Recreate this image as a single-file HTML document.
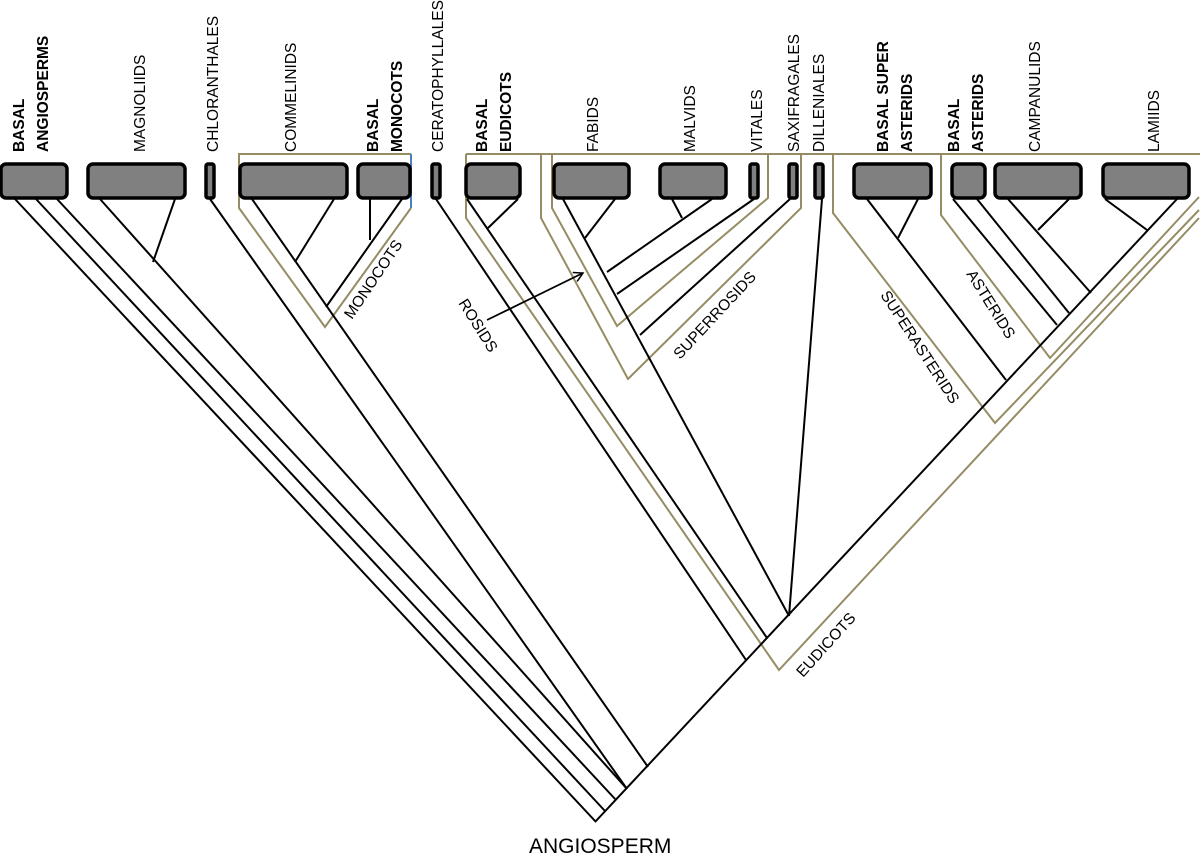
<!DOCTYPE html>
<html><head><meta charset="utf-8"><style>
html,body{margin:0;padding:0;background:#fff;}
svg{display:block;}
text{font-family:"Liberation Sans","DejaVu Sans",sans-serif;font-size:15.5px;fill:#000;}
.b{font-weight:bold;}
</style></head><body>
<svg width="1200" height="861" viewBox="0 0 1200 861" xmlns="http://www.w3.org/2000/svg">
<defs>
<marker id="ah" markerWidth="12" markerHeight="12" refX="10" refY="6" orient="auto" markerUnits="userSpaceOnUse">
<path d="M1,1 L10,6 L1,11" fill="none" stroke="#000" stroke-width="1.5"/>
</marker>
</defs>
<g fill="none" stroke="#968c64" stroke-width="2">
<polyline points="411,154 239,154 239,208 325,327 411,208"/>
<line x1="411" y1="154" x2="411" y2="208" stroke="#4a7fc0"/>
<polyline points="466,154 1200,154"/>
<polyline points="466,154 466,218 779,670 1199,218"/>
<polyline points="541,154 541,218 628,379 801,208 801,154"/>
<polyline points="552,154 552,208 617,326 768,198 768,154"/>
<polyline points="833,154 833,213 995,423 1199,210"/>
<polyline points="941,154 941,215 1050,358 1199,197"/>
</g>
<g stroke="#000" stroke-width="2" fill="none">
<line x1="595" y1="822" x2="1177" y2="199"/>
<line x1="15" y1="199" x2="596" y2="822"/>
<line x1="36" y1="199" x2="605" y2="811"/>
<line x1="57" y1="199" x2="616" y2="800"/>
<line x1="100" y1="199" x2="627" y2="789"/>
<line x1="175" y1="199" x2="153" y2="262"/>
<line x1="210" y1="199" x2="627" y2="789"/>
<line x1="252" y1="199" x2="648" y2="767"/>
<line x1="334" y1="199" x2="295" y2="262"/>
<line x1="370" y1="199" x2="370" y2="240"/>
<line x1="402" y1="199" x2="326" y2="307"/>
<line x1="436" y1="199" x2="746" y2="660"/>
<line x1="467" y1="199" x2="767" y2="638"/>
<line x1="518" y1="199" x2="488" y2="228"/>
<line x1="563" y1="199" x2="789" y2="616"/>
<line x1="615" y1="199" x2="585" y2="238"/>
<line x1="672" y1="199" x2="682" y2="218"/>
<line x1="712" y1="199" x2="607" y2="272"/>
<line x1="754" y1="199" x2="617" y2="294"/>
<line x1="790" y1="199" x2="640" y2="335"/>
<line x1="822" y1="199" x2="789" y2="616"/>
<line x1="867" y1="199" x2="1006" y2="380"/>
<line x1="918" y1="199" x2="898" y2="238"/>
<line x1="953" y1="199" x2="1057" y2="325"/>
<line x1="977" y1="199" x2="1069" y2="313"/>
<line x1="1008" y1="199" x2="1091" y2="293"/>
<line x1="1069" y1="199" x2="1038" y2="230"/>
<line x1="1105" y1="199" x2="1147" y2="230"/>
<line x1="487" y1="320" x2="583" y2="273" stroke-width="1.8" marker-end="url(#ah)"/>
</g>
<g fill="#808080" stroke="#000" stroke-width="3.5">
<rect x="1" y="164" width="66" height="34" rx="5"/>
<rect x="88" y="164" width="97" height="34" rx="5"/>
<rect x="206" y="164" width="8" height="34" rx="2"/>
<rect x="240" y="164" width="107" height="34" rx="5"/>
<rect x="358" y="164" width="52" height="34" rx="5"/>
<rect x="432" y="164" width="8" height="34" rx="2"/>
<rect x="466" y="164" width="54" height="34" rx="5"/>
<rect x="554" y="164" width="75" height="34" rx="5"/>
<rect x="660" y="164" width="66" height="34" rx="5"/>
<rect x="750" y="164" width="8" height="34" rx="2"/>
<rect x="789" y="164" width="8" height="34" rx="2"/>
<rect x="815" y="164" width="8" height="34" rx="2"/>
<rect x="854" y="164" width="77" height="34" rx="5"/>
<rect x="952" y="164" width="33" height="34" rx="5"/>
<rect x="995" y="164" width="86" height="34" rx="5"/>
<rect x="1103" y="164" width="86" height="34" rx="5"/>
</g>
<g>
<text class="b" transform="translate(24,152) rotate(-90)">BASAL</text>
<text class="b" transform="translate(48,152) rotate(-90)">ANGIOSPERMS</text>
<text transform="translate(145,152) rotate(-90)">MAGNOLIIDS</text>
<text transform="translate(218,152) rotate(-90)">CHLORANTHALES</text>
<text transform="translate(296,152) rotate(-90)">COMMELINIDS</text>
<text class="b" transform="translate(378,152) rotate(-90)">BASAL</text>
<text class="b" transform="translate(402,152) rotate(-90)">MONOCOTS</text>
<text transform="translate(443,152) rotate(-90)">CERATOPHYLLALES</text>
<text class="b" transform="translate(487,152) rotate(-90)">BASAL</text>
<text class="b" transform="translate(511,152) rotate(-90)">EUDICOTS</text>
<text transform="translate(598,152) rotate(-90)">FABIDS</text>
<text transform="translate(695,152) rotate(-90)">MALVIDS</text>
<text transform="translate(762,152) rotate(-90)">VITALES</text>
<text transform="translate(799,152) rotate(-90)">SAXIFRAGALES</text>
<text transform="translate(824,152) rotate(-90)">DILLENIALES</text>
<text class="b" transform="translate(888,152) rotate(-90)">BASAL SUPER</text>
<text class="b" transform="translate(912,152) rotate(-90)">ASTERIDS</text>
<text class="b" transform="translate(959,152) rotate(-90)">BASAL</text>
<text class="b" transform="translate(983,152) rotate(-90)">ASTERIDS</text>
<text transform="translate(1040,152) rotate(-90)">CAMPANULIDS</text>
<text transform="translate(1159,152) rotate(-90)">LAMIIDS</text>
</g>
<text transform="translate(352,320) rotate(-56)">MONOCOTS</text>
<text transform="translate(680,360) rotate(-47)">SUPERROSIDS</text>
<text transform="translate(458,303) rotate(58)">ROSIDS</text>
<text transform="translate(880,295) rotate(57)">SUPERASTERIDS</text>
<text transform="translate(966,274) rotate(58)">ASTERIDS</text>
<text transform="translate(803,678) rotate(-48)">EUDICOTS</text>
<text x="529" y="853" style="font-size:21px">ANGIOSPERM</text>
</svg>
</body></html>
